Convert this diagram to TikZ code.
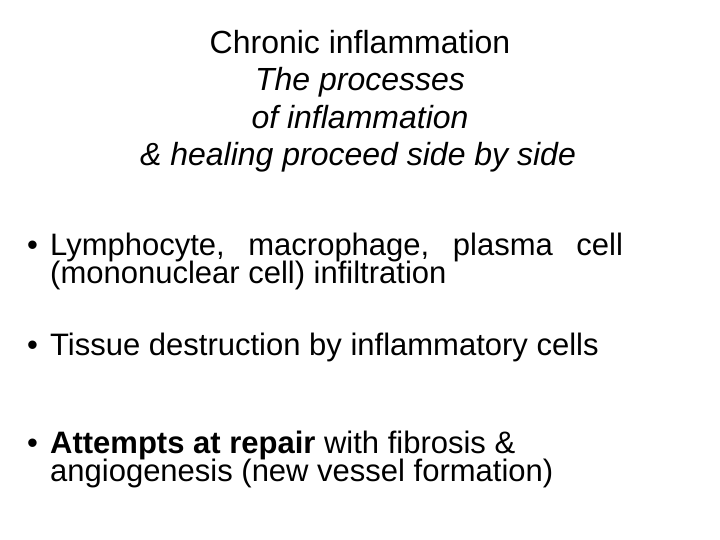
\documentclass[tikz,border=0pt]{standalone}
\usepackage{fontspec}
\setmainfont{Liberation Sans}
\begin{document}
\begin{tikzpicture}[x=1pt,y=1pt,
  ttl/.style={anchor=base,font=\fontsize{32}{34}\selectfont,inner sep=0pt},
  bul/.style={anchor=base west,font=\fontsize{31}{33}\selectfont,inner sep=0pt}]
\useasboundingbox (0,0) rectangle (720,540);
\fill[white] (0,0) rectangle (720,540);
\node[ttl] (t1) at (360,486) {Chronic inflammation};
\node[ttl] (t2) at (360,449) {\itshape The processes};
\node[ttl] (t3) at (360,411) {\itshape of inflammation};
\node[ttl] (t4) at (358,374) {\itshape \& healing proceed side by side};
\node[bul] (b1) at (27,284) {•};
\node[bul] (l1) at (50,284) {Lymphocyte,\hspace{15pt} macrophage,\hspace{15pt} plasma\hspace{15pt} cell};
\node[bul] (l2) at (50,256) {(mononuclear cell) infiltration};
\node[bul] (b2) at (27,184) {•};
\node[bul] (l3) at (50,184) {Tissue destruction by inflammatory cells};
\node[bul] (b3) at (27,86) {•};
\node[bul] (l4) at (50,86) {\bfseries Attempts at repair\mdseries{} with fibrosis \&};
\node[bul] (l5) at (50,58) {angiogenesis (new vessel formation)};
\end{tikzpicture}
\end{document}
